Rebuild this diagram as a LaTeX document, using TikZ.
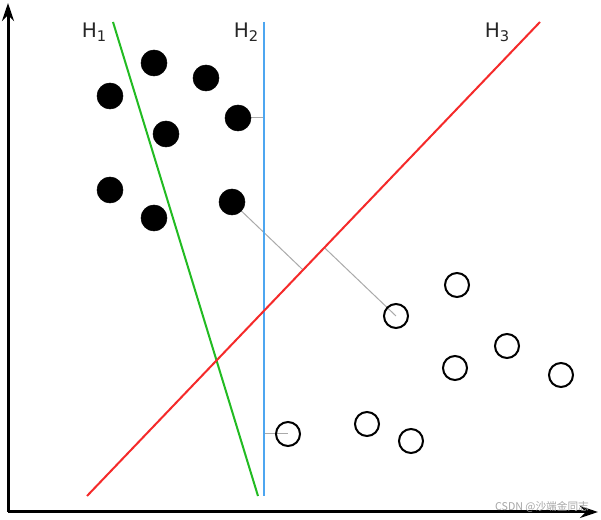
\documentclass[tikz,border=0pt]{standalone}
\usepackage{fontspec}
\setmainfont{DejaVu Sans}
\newfontfamily\cjk{Noto Sans CJK SC}
\usetikzlibrary{arrows.meta,calc}
\definecolor{hgreen}{HTML}{22BB22}
\definecolor{hblue}{HTML}{4DA6F0}
\definecolor{hred}{HTML}{F52A2A}
\definecolor{conngray}{HTML}{AAAAAA}
\tikzset{
  filledpt/.style={circle,fill=black,draw=black,minimum size=19.5pt,inner sep=0pt},
  openpt/.style={circle,draw=black,line width=1.5pt,minimum size=18pt,inner sep=0pt},
  axis/.style={line width=2.25pt,-{Stealth[length=13.5pt,width=9pt]}},
  hyper/.style={line width=1.5pt},
  conn/.style={draw=conngray,line width=0.75pt},
  hlabel/.style={font=\fontsize{15}{18}\selectfont,text=black!85,inner sep=0pt}
}
\newcommand{\hsub}[1]{H\raisebox{-0.35ex}{\fontsize{11}{11}\selectfont #1}}
\begin{document}
\begin{tikzpicture}[x=0.75pt,y=-0.75pt]
\useasboundingbox (0,0) rectangle (601,520);
\fill[white] (0,0) rectangle (601,520);
% axes
\coordinate (origin) at (8,512);
\coordinate (ytop) at (8,3);
\coordinate (xright) at (598,512);
\draw[axis] (origin) -- (ytop);
\draw[axis] (origin) -- (xright);
% hyperplane ends
\coordinate (h1a) at (113,22); \coordinate (h1b) at (258,496);
\coordinate (h2a) at (264,22); \coordinate (h2b) at (264,496);
\coordinate (h3a) at (540,22); \coordinate (h3b) at (87,496);
% points
\coordinate (f1) at (154,63);
\coordinate (f2) at (206,78);
\coordinate (f3) at (110,96);
\coordinate (f4) at (166,134);
\coordinate (f5) at (238,118);
\coordinate (f6) at (110,190);
\coordinate (f7) at (154,218);
\coordinate (f8) at (232,202);
\coordinate (o1) at (457,285);
\coordinate (o2) at (396,316);
\coordinate (o3) at (507,346);
\coordinate (o4) at (455,368);
\coordinate (o5) at (561,375);
\coordinate (o6) at (288,434);
\coordinate (o7) at (367,424);
\coordinate (o8) at (411,441);
% feet of the distance segments
\coordinate (m1) at (264,118);
\coordinate (m2) at (264,434);
\coordinate (m3) at ($(h3b)!(f8)!(h3a)$);
\coordinate (m4) at ($(h3b)!(o2)!(h3a)$);
% connectors
\draw[conn] (f5) -- (m1);
\draw[conn] (m2) -- (o6);
\draw[conn] (f8) -- (m3);
\draw[conn] (m4) -- (o2);
% hyperplanes
\draw[hyper,hgreen] (h1a) -- (h1b);
\draw[hyper,hblue] (h2a) -- (h2b);
\draw[hyper,hred] (h3b) -- (h3a);
% points
\foreach \p in {f1,f2,f3,f4,f5,f6,f7,f8} \node[filledpt] (n\p) at (\p) {};
\foreach \p in {o1,o2,o3,o4,o5,o6,o7,o8} \node[openpt] (n\p) at (\p) {};
% labels
\node[hlabel] (l1) at (94,32) {\hsub{1}};
\node[hlabel] (l2) at (246,32) {\hsub{2}};
\node[hlabel] (l3) at (497,32) {\hsub{3}};
% watermark
\node[text=black!35,font=\cjk\fontsize{8}{9}\selectfont,inner sep=0pt] (wm) at (542,507) {CSDN @沙端金同志};
\end{tikzpicture}
\end{document}
